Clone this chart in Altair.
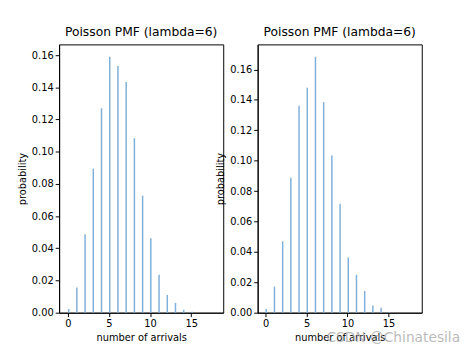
import altair as alt
import pandas as pd

arrivals = list(range(0, 16))
left_prob = [0.0023, 0.0157, 0.0487, 0.0895, 0.127, 0.159, 0.1533, 0.1433,
             0.1084, 0.0727, 0.0463, 0.0235, 0.011, 0.0061, 0.0018, 0.0006]
right_prob = [0.0024, 0.0171, 0.047, 0.0888, 0.1361, 0.148, 0.1684, 0.1385,
              0.1034, 0.0717, 0.0364, 0.0249, 0.0143, 0.0048, 0.0032, 0.0004]
title_text = "Poisson PMF (lambda=6)"
x_ticks = [0, 5, 10, 15]
y_ticks = [0.0, 0.02, 0.04, 0.06, 0.08, 0.10, 0.12, 0.14, 0.16]
bin_width = 0.18

FONT = "DejaVu Sans"


def panel(probs, ymax, xdom):
    df = pd.DataFrame({"k": arrivals, "p": probs})
    df["k2"] = df["k"] + bin_width
    return alt.Chart(df, title=alt.Title(title_text, fontSize=12.5, font=FONT,
                                          fontWeight="normal", offset=6)).mark_rect(
        color="#7fb0d9"
    ).encode(
        x=alt.X("k:Q", scale=alt.Scale(domain=xdom, nice=False, zero=False),
                axis=alt.Axis(values=x_ticks, title="number of arrivals", grid=False,
                              format="d")),
        x2="k2:Q",
        y=alt.Y("p:Q", scale=alt.Scale(domain=[0, ymax], nice=False),
                axis=alt.Axis(values=y_ticks, title="probability", grid=False,
                              format=".2f")),
        y2=alt.datum(0),
    ).properties(width=167, height=273)


left = panel(left_prob, 0.1667, [-1.07, 18.9])
right = panel(right_prob, 0.1765, [-0.96, 19.05])

wm = alt.Chart(pd.DataFrame({"t": ["CSDN @Chinatesila"]})).mark_text(
    font=FONT, fontSize=14, color="#a0a0a0", opacity=0.7, align="left", baseline="middle"
).encode(x=alt.value(70), y=alt.value(299), text="t:N")

right = alt.layer(right, wm)

chart = alt.hconcat(left, right, spacing=35, bounds="flush").configure_view(
    stroke="black", strokeWidth=1
).configure_axis(
    labelFont=FONT, titleFont=FONT, labelFontSize=10, titleFontSize=10,
    labelColor="black", titleColor="black", titleFontWeight="normal",
    domainColor="black", tickColor="black", tickSize=4, labelPadding=2,
    titlePadding=4,
).configure_concat(spacing=35).properties(
    padding={"left": 9, "top": 15, "right": 5, "bottom": 5}
)

chart.save("out.html", embed_options={"renderer": "svg", "actions": False})
